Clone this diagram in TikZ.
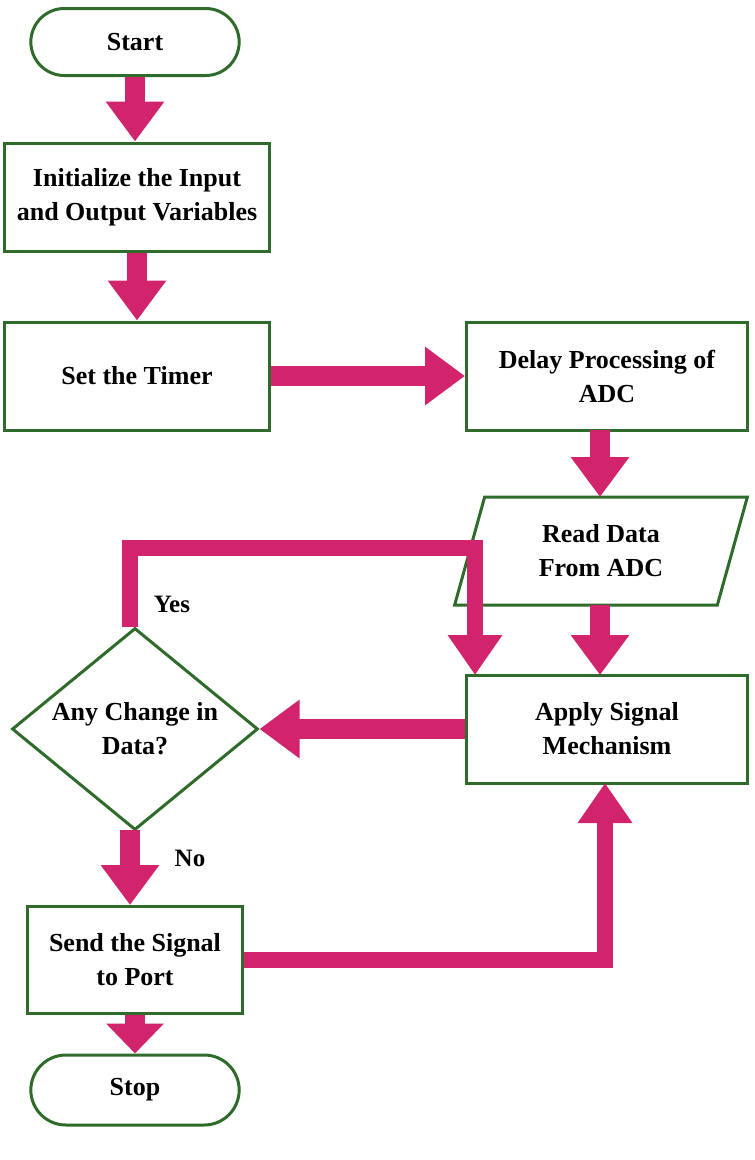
\documentclass[tikz,border=0pt]{standalone}
\usepackage{fontspec}
\setmainfont{Liberation Serif}
\usetikzlibrary{shapes.geometric,shapes.misc,arrows.meta}
\definecolor{boxgreen}{HTML}{2F6B2A}
\definecolor{flowred}{HTML}{D2246C}
\tikzset{
  box/.style={draw=boxgreen,line width=3pt,fill=white,align=center,font=\bfseries\fontsize{26}{34}\selectfont},
  proc/.style={box,rectangle,minimum height=108pt},
  term/.style={box,rounded rectangle,minimum width=215pt,minimum height=67pt},
  fat/.style={flowred,line width=20pt,-{Triangle[length=40pt,width=56pt]}},
  thin/.style={flowred,line width=16pt,line join=miter,-{Triangle[length=40pt,width=52pt]}},
  lbl/.style={font=\bfseries\fontsize{25}{30}\selectfont}
}
\begin{document}
\begin{tikzpicture}[x=1pt,y=-1pt]
  \useasboundingbox (0,0) rectangle (755,1160);
  \node[term] (start) at (135,42) {Start};
  \node[proc,minimum width=265pt] (init) at (137,197) {Initialize the Input\\and Output Variables};
  \node[proc,minimum width=265pt] (timer) at (137,376) {Set the Timer};
  \node[proc,minimum width=281pt] (delay) at (607,376) {Delay Processing of\\ADC};
  \node[box,trapezium,trapezium left angle=74,trapezium right angle=106,trapezium stretches=true,minimum width=293pt,minimum height=108pt] (read) at (601,551) {Read Data\\From ADC};
  \node[proc,minimum width=281pt] (apply) at (607,729) {Apply Signal\\Mechanism};
  \node[box,diamond,aspect=1.22,minimum width=246pt,minimum height=202pt,inner sep=0pt] (change) at (135,729) {Any Change in\\Data?};
  \node[proc,minimum width=215pt,minimum height=107pt] (send) at (135,960) {Send the Signal\\to Port};
  \node[term,minimum height=70pt] (stop) at (135,1090) {Stop};
  \coordinate (yesup) at (130,548);
  \coordinate (yesin) at (475,675);
  \coordinate (portup) at (605,783);
  % arrows
  \draw[fat] (start.south) -- (start.south |- init.north);
  \draw[fat] (init.south) -- (timer.north);
  \draw[fat] (timer.east) -- (delay.west);
  \draw[fat] (600,430) -- (600,497);
  \draw[fat] (600,605) -- (600,675);
  \draw[fat] (apply.west) -- (change.east);
  \draw[thin] (130,627) -- (yesup) -| (yesin);
  \draw[fat] (130,830) -- (send.north -| 130,0);
  \draw[thin] (send.east) -| (portup);
  \draw[fat,-{Triangle[length=30pt,width=56pt]}] (send.south) -- (stop.north);
  \node[lbl] at (172,604) {Yes};
  \node[lbl] at (190,858) {No};
\end{tikzpicture}
\end{document}
